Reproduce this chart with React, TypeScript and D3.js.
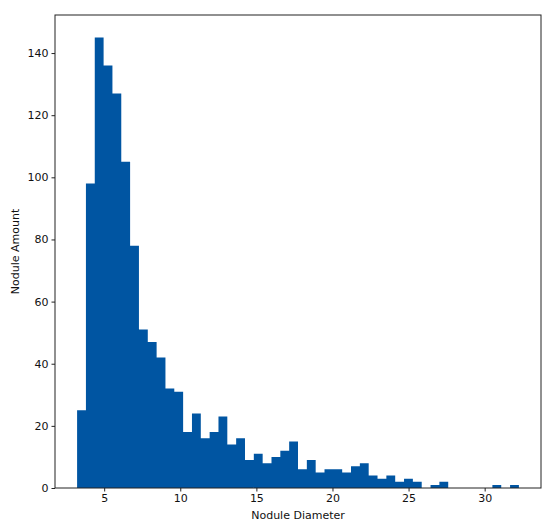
import React, { useEffect, useRef } from "react";
import * as d3 from "d3";

// histogram counts, 50 equal bins between binMin and binMax
const counts = [
  25, 98, 145, 136, 127, 105, 78, 51, 47, 42,
  32, 31, 18, 24, 16, 18, 23, 14, 16, 9,
  11, 8, 10, 12, 15, 6, 9, 5, 6, 6,
  5, 7, 8, 4, 3, 4, 2, 3, 2, 0,
  1, 2, 0, 0, 0, 0, 0, 1, 0, 1,
];
const binMin = 3.22;
const binMax = 32.25;
const xTicks = [5, 10, 15, 20, 25, 30];
const yTicks = [0, 20, 40, 60, 80, 100, 120, 140];
const xLabel = "Nodule Diameter";
const yLabel = "Nodule Amount";

function drawChart(el: SVGSVGElement) {
  const width = 550,
    height = 527;
  const margin = { top: 15, right: 9, bottom: 39, left: 55 };
  const svg = d3.select(el);
  svg.selectAll("*").remove();

  const binW = (binMax - binMin) / counts.length;
  const bins = counts.map((c, i) => ({
    x0: binMin + i * binW,
    x1: binMin + (i + 1) * binW,
    n: c,
  }));

  const pad = (binMax - binMin) * 0.05;
  const x = d3
    .scaleLinear()
    .domain([binMin - pad, binMax + pad])
    .range([margin.left, width - margin.right]);
  const y = d3
    .scaleLinear()
    .domain([0, d3.max(counts)! * 1.05])
    .range([height - margin.bottom, margin.top]);

  const font = "'DejaVu Sans', sans-serif";

  // all bars in one path so neighbouring bars don't show seams
  const p = d3.path();
  bins
    .filter((b) => b.n > 0)
    .forEach((b) => {
      p.rect(x(b.x0), y(b.n), x(b.x1) - x(b.x0), y(0) - y(b.n));
    });
  svg.append("path").attr("d", p.toString()).attr("fill", "#0055a2");

  // frame
  svg
    .append("rect")
    .attr("x", margin.left)
    .attr("y", margin.top)
    .attr("width", width - margin.left - margin.right)
    .attr("height", height - margin.top - margin.bottom)
    .attr("fill", "none")
    .attr("stroke", "#222")
    .attr("stroke-width", 1);

  const xAxis = svg
    .append("g")
    .attr("transform", `translate(0,${height - margin.bottom})`)
    .call(d3.axisBottom(x).tickValues(xTicks).tickSize(3.5).tickPadding(3).tickFormat(d3.format("d")));
  const yAxis = svg
    .append("g")
    .attr("transform", `translate(${margin.left},0)`)
    .call(d3.axisLeft(y).tickValues(yTicks).tickSize(3.5).tickPadding(3).tickFormat(d3.format("d")));

  [xAxis, yAxis].forEach((g) => {
    g.select(".domain").remove();
    g.selectAll("line").attr("stroke", "#222");
    g.selectAll("text").attr("font-family", font).attr("font-size", 11).attr("fill", "#111");
  });

  svg
    .append("text")
    .attr("x", (margin.left + width - margin.right) / 2)
    .attr("y", 519)
    .attr("text-anchor", "middle")
    .attr("font-family", font)
    .attr("font-size", 11)
    .attr("fill", "#111")
    .text(xLabel);

  svg
    .append("text")
    .attr("transform", `translate(19,${(margin.top + height - margin.bottom) / 2}) rotate(-90)`)
    .attr("text-anchor", "middle")
    .attr("font-family", font)
    .attr("font-size", 11)
    .attr("fill", "#111")
    .text(yLabel);
}

export default function App() {
  const ref = useRef<SVGSVGElement>(null);
  useEffect(() => {
    if (ref.current) drawChart(ref.current);
  }, []);
  return (
    <svg
      ref={ref}
      width={550}
      height={527}
      style={{ position: "absolute", left: 0, top: 0, background: "#fff" }}
    />
  );
}
